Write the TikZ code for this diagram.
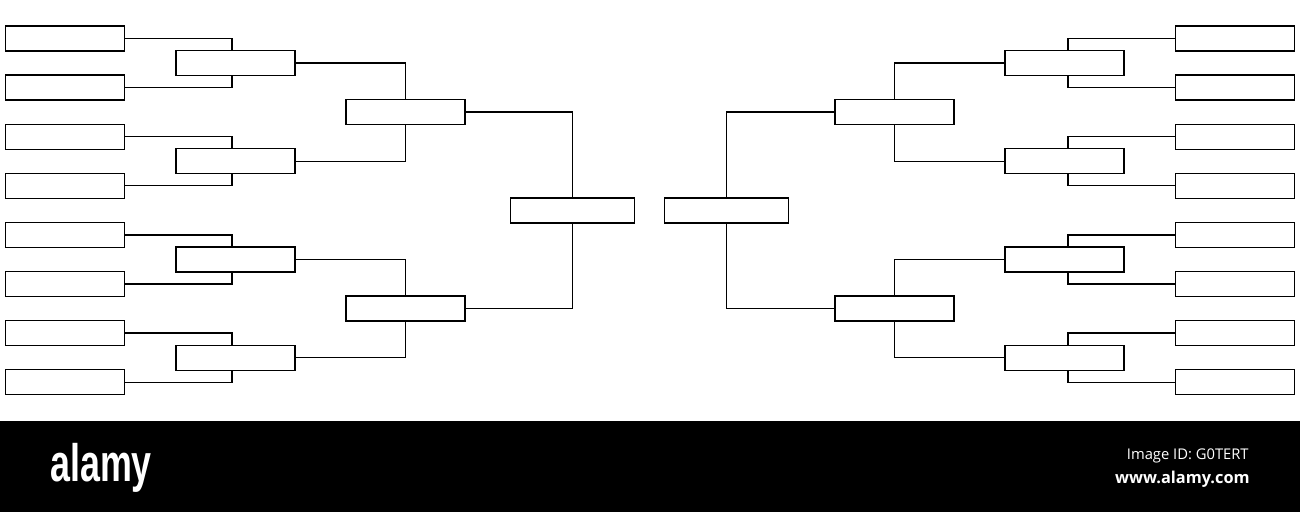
\documentclass[tikz,border=0pt]{standalone}
\usepackage{fontspec}
\newfontfamily\idfont{Open Sans}
\newfontfamily\logofont{Liberation Sans}

\tikzset{
  case/.style={draw, line width=0.75pt, minimum width=2.38cm, minimum height=0.5cm, inner sep=0pt},
  finale/.style={case, minimum width=2.48cm},
  lien/.style={line width=0.75pt}
}

\begin{document}
\begin{tikzpicture}[x=0.02cm, y=-0.02cm]
  \useasboundingbox (0,0) rectangle (1300,512);

  % Tour 1 gauche
  \node[case] (l1a) at (65,38.5) {};
  \node[case] (l1b) at (65,87.6) {};
  \node[case] (l1c) at (65,136.7) {};
  \node[case] (l1d) at (65,185.8) {};
  \node[case] (l1e) at (65,234.9) {};
  \node[case] (l1f) at (65,284) {};
  \node[case] (l1g) at (65,333.1) {};
  \node[case] (l1h) at (65,382.2) {};

  % Tour 2 gauche
  \node[case] (l2a) at (235.5,63) {};
  \node[case] (l2b) at (235.5,161.2) {};
  \node[case] (l2c) at (235.5,259.5) {};
  \node[case] (l2d) at (235.5,357.7) {};

  % Tour 3 gauche
  \node[case] (l3a) at (405.5,112) {};
  \node[case] (l3b) at (405.5,308.6) {};

  % Demi gauche
  \node[finale] (l4) at (572.5,210.5) {};

  % Tour 1 droite
  \node[case] (r1a) at (1235,38.5) {};
  \node[case] (r1b) at (1235,87.6) {};
  \node[case] (r1c) at (1235,136.7) {};
  \node[case] (r1d) at (1235,185.8) {};
  \node[case] (r1e) at (1235,234.9) {};
  \node[case] (r1f) at (1235,284) {};
  \node[case] (r1g) at (1235,333.1) {};
  \node[case] (r1h) at (1235,382.2) {};

  % Tour 2 droite
  \node[case] (r2a) at (1064.5,63) {};
  \node[case] (r2b) at (1064.5,161.2) {};
  \node[case] (r2c) at (1064.5,259.5) {};
  \node[case] (r2d) at (1064.5,357.7) {};

  % Tour 3 droite
  \node[case] (r3a) at (894.5,112) {};
  \node[case] (r3b) at (894.5,308.6) {};

  % Demi droite
  \node[finale] (r4) at (726.5,210.5) {};

  % Liens gauche
  \draw[lien] (l1a.east) -| ([xshift=-0.07cm]l2a.north);
  \draw[lien] (l1b.east) -| ([xshift=-0.07cm]l2a.south);
  \draw[lien] (l1c.east) -| ([xshift=-0.07cm]l2b.north);
  \draw[lien] (l1d.east) -| ([xshift=-0.07cm]l2b.south);
  \draw[lien] (l1e.east) -| ([xshift=-0.07cm]l2c.north);
  \draw[lien] (l1f.east) -| ([xshift=-0.07cm]l2c.south);
  \draw[lien] (l1g.east) -| ([xshift=-0.07cm]l2d.north);
  \draw[lien] (l1h.east) -| ([xshift=-0.07cm]l2d.south);
  \draw[lien] (l2a.east) -| (l3a.north);
  \draw[lien] (l2b.east) -| (l3a.south);
  \draw[lien] (l2c.east) -| (l3b.north);
  \draw[lien] (l2d.east) -| (l3b.south);
  \draw[lien] (l3a.east) -| (l4.north);
  \draw[lien] (l3b.east) -| (l4.south);

  % Liens droite
  \draw[lien] (r1a.west) -| ([xshift=0.07cm]r2a.north);
  \draw[lien] (r1b.west) -| ([xshift=0.07cm]r2a.south);
  \draw[lien] (r1c.west) -| ([xshift=0.07cm]r2b.north);
  \draw[lien] (r1d.west) -| ([xshift=0.07cm]r2b.south);
  \draw[lien] (r1e.west) -| ([xshift=0.07cm]r2c.north);
  \draw[lien] (r1f.west) -| ([xshift=0.07cm]r2c.south);
  \draw[lien] (r1g.west) -| ([xshift=0.07cm]r2d.north);
  \draw[lien] (r1h.west) -| ([xshift=0.07cm]r2d.south);
  \draw[lien] (r2a.west) -| (r3a.north);
  \draw[lien] (r2b.west) -| (r3a.south);
  \draw[lien] (r2c.west) -| (r3b.north);
  \draw[lien] (r2d.west) -| (r3b.south);
  \draw[lien] (r3a.west) -| (r4.north);
  \draw[lien] (r3b.west) -| (r4.south);

  % Bandeau
  \fill (0,421) rectangle (1300,512);
  \node[text=white, inner sep=0pt] (logo) at (101,468) {\scalebox{0.68}[1]{\logofont\bfseries\fontsize{30}{30}\selectfont alamy}};
  \node[text=white, inner sep=0pt, anchor=base east] (imageid) at (1249,459) {\idfont\fontsize{8.4}{8.4}\selectfont Image ID: G0TERT};
  \node[text=white, inner sep=0pt, anchor=base east] (site) at (1250,483) {\idfont\bfseries\fontsize{9.3}{9.3}\selectfont www.alamy.com};
\end{tikzpicture}
\end{document}
